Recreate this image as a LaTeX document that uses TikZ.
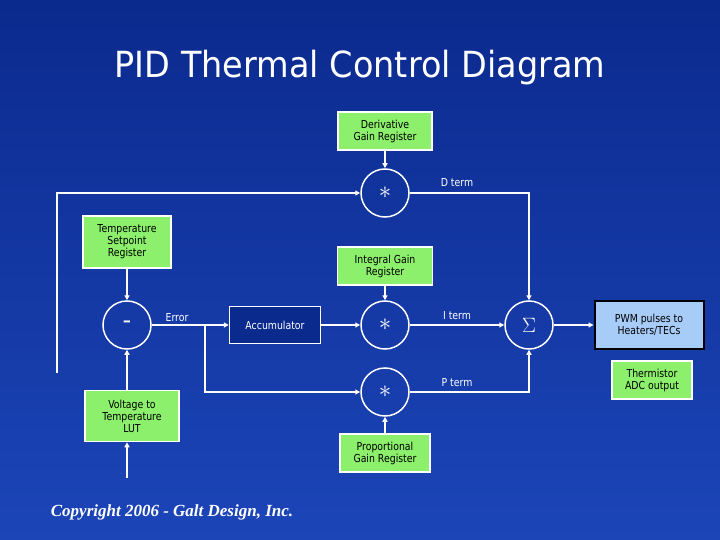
\documentclass[tikz,border=0pt]{standalone}
\usepackage{fontspec}
\setmainfont{DejaVu Sans}
\newfontfamily\cpy{Liberation Serif}
\usetikzlibrary{arrows.meta}
\definecolor{bgA}{HTML}{0B2A8E}
\definecolor{bgB}{HTML}{1C45B8}
\definecolor{gbox}{HTML}{8CF06C}
\definecolor{pbox}{HTML}{A8CCF8}
\begin{document}
\begin{tikzpicture}[x=1pt,y=-1pt,
  wire/.style={white,line width=1.4pt},
  arr/.style={wire,-{Triangle[width=5pt,length=5pt]}},
  gb/.style={draw=white,line width=1.5pt,fill=gbox,text=black,align=center,font=\fontsize{11}{12}\selectfont\addfontfeature{FakeStretch=0.85},inner sep=0pt},
  op/.style={circle,draw=white,line width=1.5pt,minimum size=48pt,inner sep=0pt,text=white,font=\fontsize{24}{24}\selectfont},
  lbl/.style={text=white,font=\fontsize{11}{12}\selectfont\addfontfeature{FakeStretch=0.85}}]
\useasboundingbox (0,0) rectangle (720,540);
\shade[top color=bgA,bottom color=bgB] (0,0) rectangle (720,540);
\node[text=white,font=\fontsize{36}{38}\selectfont\addfontfeature{FakeStretch=0.93}] (title) at (360,68) {PID Thermal Control Diagram};
\node[gb,minimum width=94pt,minimum height=38pt] (dg) at (385,131) {Derivative\\Gain Register};
\node[op] (dm) at (385,193) {$*$};
\node[gb,minimum width=88pt,minimum height=52pt] (sp) at (127,242) {Temperature\\Setpoint\\Register};
\node[gb,minimum width=95pt,minimum height=38pt] (ig) at (385,266) {Integral Gain\\Register};
\node[op] (mi) at (127,325) {-};
\node[draw=white,line width=1.5pt,fill=bgA,text=white,minimum width=91pt,minimum height=37pt,font=\fontsize{11}{12}\selectfont\addfontfeature{FakeStretch=0.85}] (acc) at (275,325) {Accumulator};
\node[op] (im) at (385,325) {$*$};
\node[op,font=\fontsize{20}{20}\selectfont] (sum) at (529,325) {$\Sigma$};
\node[draw=black,line width=2pt,fill=pbox,text=black,align=center,minimum width=109pt,minimum height=48pt,font=\fontsize{11}{12}\selectfont\addfontfeature{FakeStretch=0.85}] (pwm) at (649,325) {PWM pulses to\\Heaters/TECs};
\node[gb,minimum width=80pt,minimum height=38pt] (th) at (652,380) {Thermistor\\ADC output};
\node[op] (pm) at (385,392) {$*$};
\node[gb,minimum width=94pt,minimum height=51pt] (vt) at (132,416) {Voltage to\\Temperature\\LUT};
\node[gb,minimum width=90pt,minimum height=38pt] (pg) at (385,453) {Proportional\\Gain Register};
\node[text=white,font=\cpy\bfseries\itshape\fontsize{17}{18}\selectfont] (cp) at (172,512) {Copyright 2006 - Galt Design, Inc.};
\node[lbl] (dt) at (457,183) {D term};
\node[lbl] (it) at (457,316) {I term};
\node[lbl] (pt) at (457,383) {P term};
\node[lbl] (er) at (177,318) {Error};
\coordinate (fb) at (57,373);
\coordinate (br) at (205,325);
\coordinate (lin) at (127,478);
\draw[arr] (dg) -- (dm);
\draw[arr] (ig) -- (im);
\draw[arr] (pg) -- (pm);
\draw[arr] (sp) -- (mi);
\draw[arr] (vt.north -| mi) -- (mi);
\draw[arr] (lin) -- (vt.south -| lin);
\draw[arr] (fb) |- (dm.west);
\draw[arr] (mi) -- (acc);
\draw[arr] (acc) -- (im);
\draw[arr] (im) -- (sum);
\draw[arr] (br) |- (pm.west);
\draw[arr] (dm.east) -| (sum.north);
\draw[arr] (pm.east) -| (sum.south);
\draw[arr] (sum) -- (pwm);
\end{tikzpicture}
\end{document}
